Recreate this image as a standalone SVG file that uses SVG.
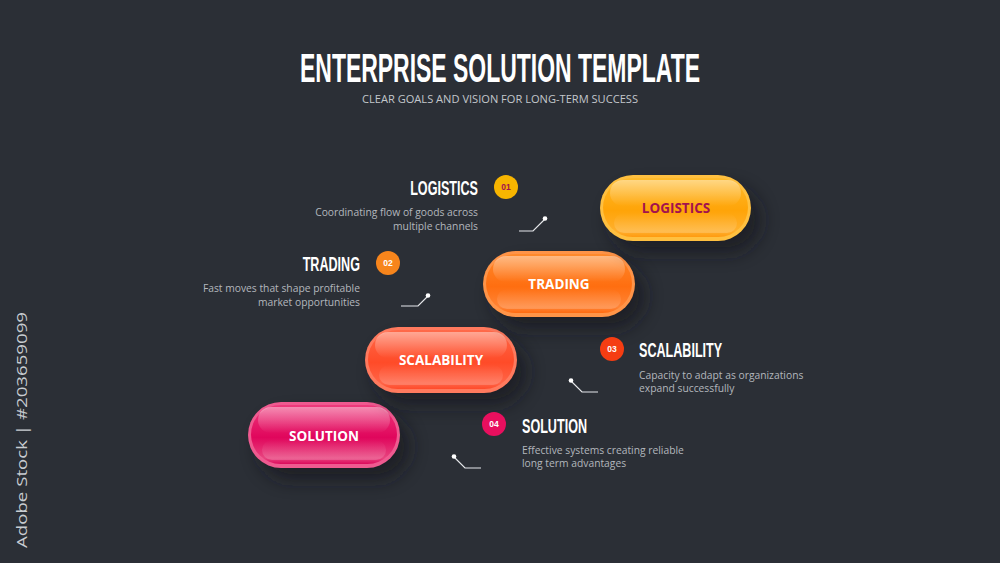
<svg xmlns="http://www.w3.org/2000/svg" width="1000" height="563" viewBox="0 0 1000 563">
<defs>
<style>
.title{font-family:"Liberation Sans",Arial,sans-serif;font-weight:bold;font-size:41px;fill:#ffffff}
.sub{font-family:"Open Sans","Liberation Sans",sans-serif;font-size:10.5px;fill:#c3c7cc}
.head{font-family:"Liberation Sans",Arial,sans-serif;font-weight:bold;font-size:21px;fill:#ffffff}
.desc{font-family:"Open Sans","Liberation Sans",sans-serif;font-size:10.3px;fill:#b3b7bd}
.badge{font-family:"Liberation Sans",Arial,sans-serif;font-weight:bold;font-size:8.5px;text-anchor:middle}
.pill{font-family:"Open Sans","Liberation Sans",sans-serif;font-weight:bold;font-size:13.5px;text-anchor:middle}
.conn{fill:none;stroke:#e6e8eb;stroke-width:1.2}
.dot{fill:#ffffff}
.wm{font-family:"Open Sans","Liberation Sans",sans-serif;font-size:15px;fill:#c8ccd1}
</style>
<filter id="sh" x="-30%" y="-40%" width="170%" height="200%">
<feGaussianBlur stdDeviation="9"/>
</filter>
<linearGradient id="gl" x1="0" y1="0" x2="0" y2="1"><stop offset="0" stop-color="#ffffff" stop-opacity="0.42"/><stop offset="1" stop-color="#ffffff" stop-opacity="0"/></linearGradient>
<linearGradient id="gb" x1="0" y1="0" x2="0" y2="1"><stop offset="0" stop-color="#ffffff" stop-opacity="0"/><stop offset="1" stop-color="#ffffff" stop-opacity="0.18"/></linearGradient>
<linearGradient id="g1" x1="0" y1="0" x2="0" y2="1"><stop offset="0" stop-color="#ffbb2c"/><stop offset="0.55" stop-color="#ffa408"/><stop offset="0.9" stop-color="#ffb02e"/><stop offset="1" stop-color="#ff9a10"/></linearGradient>
<linearGradient id="g2" x1="0" y1="0" x2="0" y2="1"><stop offset="0" stop-color="#ff8a2c"/><stop offset="0.55" stop-color="#ff6e10"/><stop offset="0.9" stop-color="#ff8436"/><stop offset="1" stop-color="#ff6a10"/></linearGradient>
<linearGradient id="g3" x1="0" y1="0" x2="0" y2="1"><stop offset="0" stop-color="#ff6a4a"/><stop offset="0.55" stop-color="#ff4b28"/><stop offset="0.9" stop-color="#ff6548"/><stop offset="1" stop-color="#ff4a2a"/></linearGradient>
<linearGradient id="g4" x1="0" y1="0" x2="0" y2="1"><stop offset="0" stop-color="#ee3a7c"/><stop offset="0.55" stop-color="#e0065c"/><stop offset="0.9" stop-color="#e8447f"/><stop offset="1" stop-color="#dc0a5c"/></linearGradient>
</defs>
<rect width="1000" height="563" fill="#2b2f36"/>

<text class="title" transform="translate(500,82) scale(0.56,1)" text-anchor="middle">ENTERPRISE SOLUTION TEMPLATE</text>
<text class="sub" x="500" y="103" text-anchor="middle" textLength="276" lengthAdjust="spacingAndGlyphs">CLEAR GOALS AND VISION FOR LONG-TERM SUCCESS</text>

<text class="wm" transform="translate(27,548) rotate(-90)" textLength="236" lengthAdjust="spacingAndGlyphs">Adobe Stock | #203659099</text>

<g id="connectors">
<polyline class="conn" points="519,231 533,231 545,219"/><circle class="dot" cx="545" cy="218.5" r="2.3"/>
<polyline class="conn" points="401,306 418,306 428,296"/><circle class="dot" cx="428" cy="295.5" r="2.3"/>
<polyline class="conn" points="571,381 582,392 598,392"/><circle class="dot" cx="571" cy="380.5" r="2.3"/>
<polyline class="conn" points="454,457 465,468 481,468"/><circle class="dot" cx="454" cy="456.5" r="2.3"/>
</g>

<g id="node-solution">
<rect x="258" y="414" width="152" height="66" rx="33" fill="#14161a" opacity="0.65" filter="url(#sh)"/>
<rect x="248" y="402" width="152" height="66" rx="33" fill="#ef5a90"/>
<rect x="251" y="405" width="146" height="59" rx="29.5" fill="url(#g4)"/>
<rect x="258" y="407" width="132" height="26" rx="13" fill="url(#gl)"/>
<rect x="262" y="440" width="124" height="20" rx="10" fill="url(#gb)"/>
<text class="pill" x="324" y="441" fill="#ffffff">SOLUTION</text>
</g>

<g id="node-scalability">
<rect x="375" y="339" width="152" height="66" rx="33" fill="#14161a" opacity="0.65" filter="url(#sh)"/>
<rect x="365" y="327" width="152" height="66" rx="33" fill="#ff7a5e"/>
<rect x="368" y="330" width="146" height="59" rx="29.5" fill="url(#g3)"/>
<rect x="375" y="332" width="132" height="26" rx="13" fill="url(#gl)"/>
<rect x="379" y="365" width="124" height="20" rx="10" fill="url(#gb)"/>
<text class="pill" x="441" y="365" fill="#ffffff">SCALABILITY</text>
</g>

<g id="node-trading">
<rect x="493" y="263" width="152" height="66" rx="33" fill="#14161a" opacity="0.65" filter="url(#sh)"/>
<rect x="483" y="251" width="152" height="66" rx="33" fill="#ff9448"/>
<rect x="486" y="254" width="146" height="59" rx="29.5" fill="url(#g2)"/>
<rect x="493" y="256" width="132" height="26" rx="13" fill="url(#gl)"/>
<rect x="497" y="289" width="124" height="20" rx="10" fill="url(#gb)"/>
<text class="pill" x="559" y="289" fill="#ffffff">TRADING</text>
</g>

<g id="node-logistics">
<rect x="610" y="187" width="151" height="66" rx="33" fill="#14161a" opacity="0.65" filter="url(#sh)"/>
<rect x="600" y="175" width="151" height="66" rx="33" fill="#ffc040"/>
<rect x="603" y="178" width="145" height="59" rx="29.5" fill="url(#g1)"/>
<rect x="610" y="180" width="131" height="26" rx="13" fill="url(#gl)"/>
<rect x="614" y="213" width="123" height="20" rx="10" fill="url(#gb)"/>
<text class="pill" x="676" y="213" fill="#a3124e">LOGISTICS</text>
</g>

<g id="label-logistics">
<text class="head" transform="translate(478,195) scale(0.6,1)" text-anchor="end">LOGISTICS</text>
<circle cx="506" cy="187" r="12" fill="#f7b500"/>
<text class="badge" x="506" y="190" fill="#a3124e">01</text>
<text class="desc" x="478" y="216" text-anchor="end">Coordinating flow of goods across</text>
<text class="desc" x="478" y="230" text-anchor="end">multiple channels</text>
</g>

<g id="label-trading">
<text class="head" transform="translate(360,271) scale(0.6,1)" text-anchor="end">TRADING</text>
<circle cx="388" cy="263" r="12" fill="#f7851c"/>
<text class="badge" x="388" y="266" fill="#ffffff">02</text>
<text class="desc" x="360" y="292" text-anchor="end">Fast moves that shape profitable</text>
<text class="desc" x="360" y="306" text-anchor="end">market opportunities</text>
</g>

<g id="label-scalability">
<circle cx="612" cy="349" r="12" fill="#f53d12"/>
<text class="badge" x="612" y="352" fill="#ffffff">03</text>
<text class="head" transform="translate(639,357) scale(0.6,1)">SCALABILITY</text>
<text class="desc" x="639" y="379">Capacity to adapt as organizations</text>
<text class="desc" x="639" y="392">expand successfully</text>
</g>

<g id="label-solution">
<circle cx="494" cy="424" r="12" fill="#e80f5e"/>
<text class="badge" x="494" y="427" fill="#ffffff">04</text>
<text class="head" transform="translate(522,433) scale(0.6,1)">SOLUTION</text>
<text class="desc" x="522" y="454">Effective systems creating reliable</text>
<text class="desc" x="522" y="467">long term advantages</text>
</g>
</svg>
